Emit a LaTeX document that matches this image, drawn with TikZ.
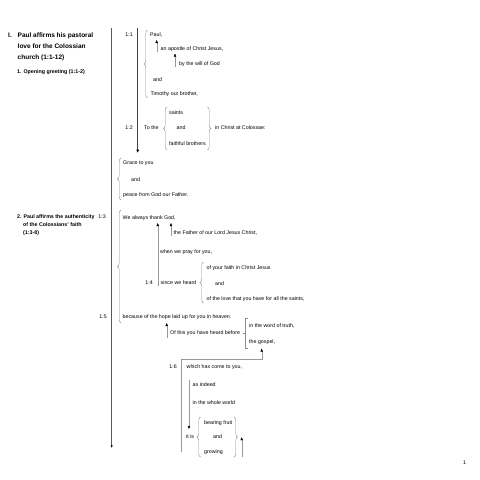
\documentclass[tikz,border=0pt]{standalone}
\usepackage{fontspec}
\setmainfont{Liberation Sans}
\usetikzlibrary{arrows.meta,decorations.pathreplacing}

\begin{document}
\begin{tikzpicture}[x=1pt,y=-1pt]
      \useasboundingbox (0,0) rectangle (480,480);
      \tikzstyle{txt} = [anchor=west, inner sep=0pt, text height=4pt, text depth=1.2pt, font=\fontsize{5.3}{6}\selectfont]
      \tikzstyle{vnum} = [txt, anchor=east]
      \tikzstyle{head} = [txt, text height=5pt, text depth=1.4pt, font=\bfseries\fontsize{6.5}{8}\selectfont]
      \tikzstyle{subhead} = [txt, font=\bfseries\fontsize{5.3}{6}\selectfont]
      \tikzstyle{arr} = [draw=black!40, line width=0.4pt, -{Latex[length=3.2pt,width=2.6pt,color=black]}]
      \tikzstyle{mainarr} = [draw=black!65, line width=0.5pt, -{Latex[length=2.6pt,width=2.2pt,color=black]}]
      \tikzstyle{darkarr} = [draw=black!75, line width=0.9pt, -{Latex[length=3.4pt,width=3pt,color=black]}]
      \tikzstyle{brc} = [draw=black!45, line width=0.4pt, decorate, decoration={brace,amplitude=3.5pt}]
      \tikzstyle{brk} = [draw=black!45, line width=0.4pt]

      % outline headings
      \node[head] (secI) at (8,36) {I.};
      \node[head] (headIa) at (17.5,36) {Paul affirms his pastoral};
      \node[head] (headIb) at (17.5,47) {love for the Colossian};
      \node[head] (headIc) at (17.5,58) {church (1:1-12)};
      \node[subhead] (sub1) at (17,72.5) {1. Opening greeting (1:1-2)};
      \node[subhead] (sub2a) at (17,217) {2. Paul affirms the authenticity};
      \node[subhead] (sub2b) at (23,225) {of the Colossians' faith};
      \node[subhead] (sub2c) at (23,233.5) {(1:3-8)};

      % 1:1-2
      \node[vnum] (v11) at (133,35.5) {1:1};
      \node[txt] (paul) at (150,35.5) {Paul,};
      \node[txt] (apostle) at (160.5,49.5) {an apostle of Christ Jesus,};
      \node[txt] (will) at (179,64) {by the will of God};
      \node[txt] (andA) at (153,80) {and};
      \node[txt] (timothy) at (150.5,94) {Timothy our brother,};
      \node[vnum] (v12) at (133,128) {1:2};
      \node[txt] (tothe) at (144,128) {To the};
      \node[txt] (saints) at (169,113) {saints};
      \node[txt] (andB) at (176.5,128) {and};
      \node[txt] (faithful) at (169,144) {faithful brothers};
      \node[txt] (colossae) at (215,128) {in Christ at Colossae:};
      \node[txt] (grace) at (123,163) {Grace to you};
      \node[txt] (andC) at (131,180) {and};
      \node[txt] (peace) at (123,195) {peace from God our Father.};

      % 1:3-8
      \node[vnum] (v13) at (106,217.5) {1:3};
      \node[txt] (thank) at (122.5,218) {We always thank God,};
      \node[txt] (father) at (173.5,233) {the Father of our Lord Jesus Christ,};
      \node[txt] (pray) at (160,252) {when we pray for you,};
      \node[vnum] (v14) at (153,283.5) {1:4};
      \node[txt] (heard) at (160.5,283.5) {since we heard};
      \node[txt] (faith) at (206.5,268) {of your faith in Christ Jesus};
      \node[txt] (andD) at (215,284) {and};
      \node[txt] (love) at (206.5,299) {of the love that you have for all the saints,};
      \node[vnum] (v15) at (107,317) {1:5};
      \node[txt] (hope) at (122.5,317) {because of the hope laid up for you in heaven.};
      \node[txt] (before) at (170,333) {Of this you have heard before};
      \node[txt] (truth) at (249,326) {in the word of truth,};
      \node[txt] (gospel) at (249,342) {the gospel,};
      \node[vnum] (v16) at (177,367) {1:6};
      \node[txt] (come) at (186.5,367) {which has come to you,};
      \node[txt] (indeed) at (192.5,385) {as indeed};
      \node[txt] (world) at (192.5,403) {in the whole world};
      \node[txt] (itis) at (186,437) {it is};
      \node[txt] (fruit) at (204,423) {bearing fruit};
      \node[txt] (andE) at (213,437) {and};
      \node[txt] (growing) at (204,452) {growing};

      \node[txt] (page) at (463,463.5) {1};

      % long lines
      \coordinate (ltop) at (111.7,28);
      \coordinate (lbot) at (111.7,448);
      \draw[mainarr] (ltop) -- (lbot);
      \coordinate (dtop) at (137.7,28);
      \coordinate (dbot) at (137.7,153);
      \draw[darkarr] (dtop) -- (dbot);

      % braces
      \draw[brc] (147.5,98) -- (147.5,30);
      \draw[brc] (167,150) -- (167,107);
      \draw[brc] (207.5,107) -- (207.5,150);
      \draw[brc] (121,200) -- (121,158);
      \draw[brc] (121,323) -- (121,210);
      \draw[brc] (203.5,303) -- (203.5,262);
      \draw[brc] (200.5,457) -- (200.5,417);
      \draw[brc] (234,417) -- (234,457);
      \draw[brk] (248,318) -- (245,318) -- (245,348) -- (248,348);
      \draw[brk] ([xshift=2.5pt]before.east) -- (245,333);

      % arrows
      \draw[arr] ([xshift=-3.8pt]apostle.south west) -- ([xshift=-3.8pt,yshift=-1.5pt]apostle.west |- paul.south);
      \draw[arr] ([xshift=-4pt]will.south west) -- ([xshift=-4pt,yshift=-1pt]will.west |- apostle.south);
      \draw[arr] ([xshift=-2.8pt]heard.south west) -- ([xshift=-2.8pt,yshift=-2pt]heard.west |- thank.south);
      \draw[arr] ([xshift=-2.5pt]father.south west) -- ([xshift=-2.5pt,yshift=-2pt]father.west |- thank.south);
      \draw[arr] ([xshift=-3.3pt,yshift=-2pt]before.south west) -- ([xshift=-3.3pt,yshift=-3pt]before.west |- hope.south);
      \coordinate (sixbot) at (180.7,452);
      \coordinate (sixtop) at (180.7,359);
      \coordinate (gosp) at ([xshift=12.7pt,yshift=-3.5pt]gospel.south west);
      \draw[arr] (sixbot) -- (sixtop) -| (gosp);
      \draw[arr] ([xshift=-3.5pt,yshift=2pt]indeed.north west) -- ([xshift=3pt,yshift=5pt]itis.north west);
      \coordinate (fbot) at (241.7,457);
      \draw[arr] (fbot) -- (fbot |- andE.center);
\end{tikzpicture}
\end{document}
